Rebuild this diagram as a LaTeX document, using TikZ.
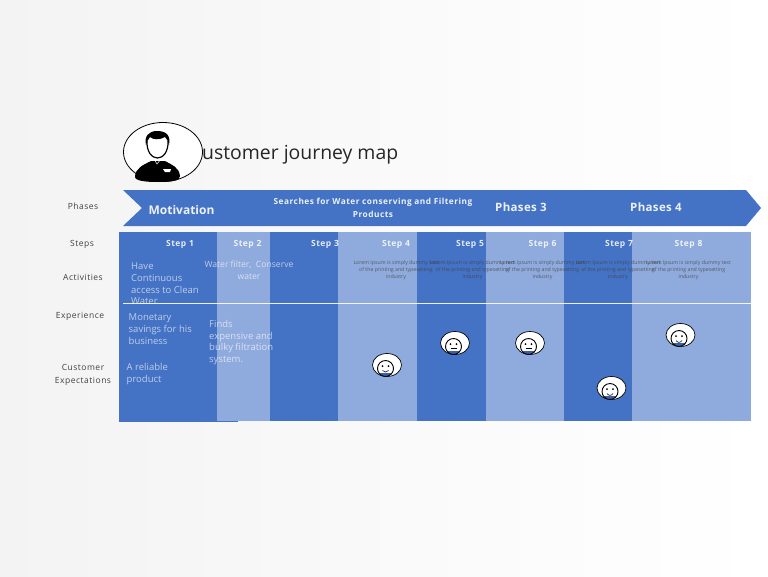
\documentclass[tikz,border=0pt]{standalone}
\usepackage{fontspec}
\setmainfont{Open Sans}
\usetikzlibrary{shapes.geometric}
\definecolor{dk}{HTML}{4472C4}
\definecolor{lt}{HTML}{8FAADC}
\definecolor{lbl}{HTML}{404040}
\definecolor{bgl}{HTML}{F3F3F3}
\newfontfamily\spc[LetterSpace=6]{Open Sans}
\newfontfamily\spcb[LetterSpace=3]{Open Sans}
\tikzset{
 col/.style={inner sep=0pt,outer sep=0pt},
 sidelbl/.style={text=lbl,font=\spc\fontsize{8.5}{13.5}\selectfont,align=center},
 steplbl/.style={text=white,opacity=.85,font=\spc\bfseries\fontsize{8.5}{11}\selectfont},
 phase/.style={text=white,opacity=.9,font=\spcb\bfseries\fontsize{11.5}{14}\selectfont},
 lorem/.style={text=lbl,opacity=.75,font=\fontsize{5.2}{6.9}\selectfont,align=center},
 body/.style={text=white,opacity=.65,font=\fontsize{9.5}{11.6}\selectfont,align=left,anchor=north west,inner sep=0pt},
 faceout/.style={draw=black,fill=white,line width=.7pt},
 facehead/.style={draw=black,line width=.9pt},
}
\newcommand{\facemark}[4]{% x y name mouth-bend
 \node[ellipse,faceout,minimum width=29pt,minimum height=23pt,inner sep=0pt] (#3) at (#1,#2) {};
 \begin{scope}[shift={(#1,#2)}]
  \fill[white] (-1.5,3.5) circle (8);
  \begin{scope}
   \clip (-1.5,3.5) circle (8);
   \fill[dk!85!black] (-10,8) rectangle (7,12);
  \end{scope}
  \draw[facehead] (-1.5,3.5) circle (8);
  \fill (-4.5,1.2) circle (1);
  \fill (1.5,1.2) circle (1);
  \draw[line width=.6pt] (-4.5,5.5) .. controls (-2.5,#4) and (-.5,#4) .. (1.5,5.5);
 \end{scope}
}
\begin{document}
\begin{tikzpicture}[x=1pt,y=-1pt]
\useasboundingbox (0,0) rectangle (768,576);
\shade[left color=bgl,right color=white,middle color=bgl!45!white] (0,0) rectangle (768,576);
% phase ribbon
\fill[dk] (123,190) -- (746,190) -- (761,208) -- (746,226) -- (123,226) -- (142,208) -- cycle;
% columns
\fill[dk] (119,232) rectangle (238,422);
\node[col,fill=lt,minimum width=53pt,minimum height=189pt] (c2) at (243.5,326.5) {};
\node[col,fill=dk,minimum width=68pt,minimum height=189pt] (c3) at (304,326.5) {};
\node[col,fill=lt,minimum width=79pt,minimum height=189pt] (c4) at (377.5,326.5) {};
\node[col,fill=dk,minimum width=69pt,minimum height=189pt] (c5) at (451.5,326.5) {};
\node[col,fill=lt,minimum width=78pt,minimum height=189pt] (c6) at (525,326.5) {};
\node[col,fill=dk,minimum width=68pt,minimum height=189pt] (c7) at (598,326.5) {};
\node[col,fill=lt,minimum width=119pt,minimum height=189pt] (c8) at (691.5,326.5) {};
\draw[white,opacity=.9,line width=.7pt] (123,303.5) -- (751,303.5);
% title
\node[anchor=west,inner sep=0pt,text=black!85,font=\fontsize{19.4}{22}\selectfont] (title) at (202,155) {ustomer journey map};
% avatar
\node[ellipse,draw=black,fill=white,line width=.8pt,minimum width=79pt,minimum height=59pt,inner sep=0pt] (avatar) at (163,152) {};
\fill[black] (135,176) .. controls (136,168) and (143,165) .. (151,161) -- (165,161) .. controls (172,165) and (179,167) .. (180,176) .. controls (181,181) and (170,182) .. (158,182) .. controls (146,182) and (134,181) .. (135,176) -- cycle;
\fill[white] (163,169) -- (171,169) -- (170,172) -- (165,172) -- cycle;
\draw[white,line width=.5pt] (154,159) -- (157,164) -- (161,159);
\fill[white] (147,140) .. controls (146,152) and (152,158) .. (157.5,158) .. controls (163,158) and (169,152) .. (168,140) -- cycle;
\draw[black,line width=1.2pt] (147,141) .. controls (146.5,152) and (152,158) .. (157.5,158) .. controls (163,158) and (168.5,152) .. (168,141);
\fill[black] (146,145) .. controls (144,136) and (149,131) .. (157,131) .. controls (166,131) and (171,135) .. (169,145) .. controls (168,141) and (167,139) .. (165,137) .. controls (160,140) and (153,140) .. (150,137) .. controls (148,139) and (147,142) .. (146,145) -- cycle;
% side labels
\node[sidelbl] (l1) at (83,206.5) {Phases};
\node[sidelbl] (l2) at (82,244) {Steps};
\node[sidelbl] (l3) at (83,277.5) {Activities};
\node[sidelbl] (l4) at (80,316) {Experience};
\node[sidelbl] (l5) at (83,375) {Customer\\Expectations};
% phases
\node[text=white,opacity=.9,font=\bfseries\fontsize{12}{14}\selectfont] (p1) at (181.5,210) {Motivation};
\node[text=white,opacity=.9,font=\spc\bfseries\fontsize{8.3}{13}\selectfont,align=center] (p2) at (373,207.5) {Searches for Water conserving and Filtering\\Products};
\node[phase] (p3) at (521,207.5) {Phases 3};
\node[phase] (p4) at (656,207.5) {Phases 4};
% steps
\node[steplbl] (s1) at (180,244) {Step 1};
\node[steplbl] (s2) at (247.5,244) {Step 2};
\node[steplbl] (s3) at (325,244) {Step 3};
\node[steplbl] (s4) at (396,244) {Step 4};
\node[steplbl] (s5) at (470,244) {Step 5};
\node[steplbl] (s6) at (542.5,244) {Step 6};
\node[steplbl] (s7) at (619,244) {Step 7};
\node[steplbl] (s8) at (688.5,244) {Step 8};
% body text
\node[body] (a1) at (131,263) {Have\\Continuous\\access to Clean\\Water};
\node[text=white,opacity=.65,font=\fontsize{8.6}{11.6}\selectfont,align=center] (a2) at (249,270) {Water filter,~ Conserve\\water};
\node[body] (e1) at (128.5,314) {Monetary\\savings for his\\business};
\node[body] (e2) at (209,320) {Finds\\expensive and\\bulky filtration\\system.};
\node[body] (x1) at (126.5,363) {A reliable\\product};
\node[lorem] (a4) at (396,270.5) {Lorem Ipsum is simply dummy text\\of the printing and typesetting\\industry};
\node[lorem] (a5) at (472.5,270.5) {Lorem Ipsum is simply dummy text\\of the printing and typesetting\\industry};
\node[lorem] (a6) at (542.5,270.5) {Lorem Ipsum is simply dummy text\\of the printing and typesetting\\industry};
\node[lorem] (a7) at (618,270.5) {Lorem Ipsum is simply dummy text\\of the printing and typesetting\\industry};
\node[lorem] (a8) at (688.5,270.5) {Lorem Ipsum is simply dummy text\\of the printing and typesetting\\industry};
% faces
\facemark{387}{365}{f1}{7.5}
\facemark{455}{343}{f2}{5.5}
\facemark{530}{343}{f3}{5.5}
\facemark{611.5}{388}{f4}{8}
\facemark{680.5}{335}{f5}{8}
\end{tikzpicture}
\end{document}
